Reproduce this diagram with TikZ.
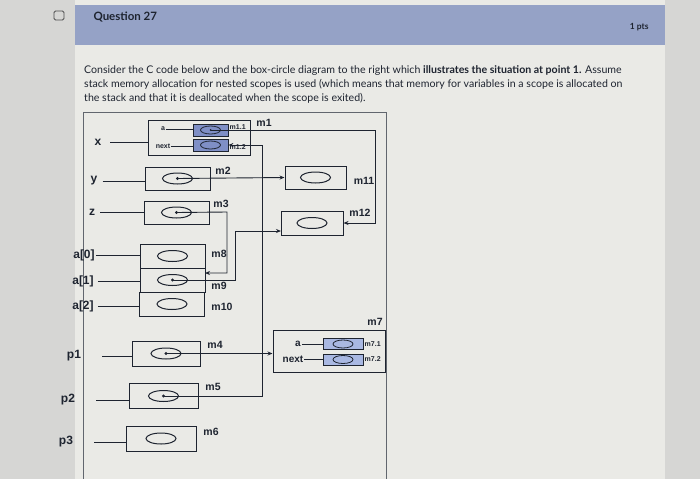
\documentclass[tikz,border=0pt]{standalone}
\usepackage{fontspec}
\setmainfont{Liberation Sans}
\newfontfamily\lato{Lato}
\usetikzlibrary{shapes.geometric,arrows.meta,calc}
\definecolor{bg}{HTML}{D6D6D4}
\definecolor{card}{HTML}{EAEAE6}
\definecolor{head}{HTML}{95A2C6}
\definecolor{inner}{HTML}{7F8FC6}
\definecolor{innerl}{HTML}{A9B8E2}
\definecolor{ink}{HTML}{1E2430}
\begin{document}
\begin{tikzpicture}[x=1pt,y=-1pt,
  box/.style={draw=ink,line width=1pt,inner sep=0pt},
  ibox/.style={draw=ink,line width=0.8pt,fill=inner,minimum width=35pt,minimum height=12pt,inner sep=0pt},
  lbox/.style={draw=ink,line width=0.8pt,fill=innerl,minimum width=40pt,minimum height=11pt,inner sep=0pt},
  ell/.style={ellipse,draw=ink,line width=1pt,minimum width=30pt,minimum height=11pt,inner sep=0pt},
  sell/.style={ellipse,draw=ink,line width=0.8pt,minimum width=20pt,minimum height=8pt,inner sep=0pt},
  lab/.style={font=\fontsize{10.5}{12}\selectfont\bfseries,text=ink,inner sep=1pt},
  vlab/.style={font=\fontsize{12}{13}\selectfont\bfseries,text=ink,inner sep=1pt},
  slab/.style={font=\fontsize{7}{8}\selectfont\bfseries,text=ink,inner sep=0.5pt},
  ln/.style={draw=ink,line width=0.9pt},
  ptr/.style={draw=ink,line width=0.9pt,-{Stealth[length=5pt,width=4pt]}}]
\useasboundingbox (0,0) rectangle (700,479);
\fill[bg] (0,0) rectangle (700,479);
\fill[card] (75,0) rectangle (665,479);
\fill[head] (75,5) rectangle (665,45);
\draw[gray!60!black,line width=0.8pt,rounded corners=1.5pt] (54,11) rectangle (64,20);
\node[anchor=west,font=\lato\fontsize{11.5}{13}\selectfont\bfseries,text=ink] (q) at (90,17) {Question 27};
\node[anchor=east,font=\lato\fontsize{8.5}{10}\selectfont\bfseries,text=ink] (pts) at (652,27) {1 pts};
\node[anchor=north west,align=left,font=\lato\fontsize{10.6}{14}\selectfont,text=ink,inner sep=0pt] (txt) at (84,65)
 {Consider the C code below and the box-circle diagram to the right which \textbf{illustrates the situation at point 1.} Assume\\
  stack memory allocation for nested scopes is used (which means that memory for variables in a scope is allocated on\\
  the stack and that it is deallocated when the scope is exited).};
% outer frame
\draw[ink!70,line width=1pt] (386,479) -- (386,112) -- (83,112) -- (83,479);
% m1
\node[box,minimum width=102pt,minimum height=35pt] (m1) at (199,137.5) {};
\node[ibox] (m11b) at (210.5,130) {};
\node[ibox] (m12b) at (210.5,145) {};
\node[sell] (e11) at (m11b.center) {};
\node[sell] (e12) at (m12b.center) {};
\node[slab] (la) at (163,129) {a};
\node[slab] (lnext) at (163,146) {next};
\draw[ln] (la.east) -- (la.east -| m11b.west);
\draw[ln] (lnext.east) -- (lnext.east -| m12b.west);
\node[slab,anchor=west] (l11) at (229,127) {m1.1};
\node[slab,anchor=west] (l12) at (229,147) {m1.2};
\node[lab] (lm1) at (264,123) {m1};
\node[vlab] (x) at (98,142) {x};
\coordinate (x1) at (110,142);
\draw[ln] (x1) -- (x1 -| m1.west);
% m2
\node[box,minimum width=65pt,minimum height=23pt] (m2) at (177.5,178.5) {};
\node[ell] (e2) at (m2.center) {};
\node[lab] (lm2) at (223,171) {m2};
\node[vlab] (y) at (94,181) {y};
\draw[ln] ($(y.east)+(4,0)$) -- (y.east -| m2.west);
% m3
\node[box,minimum width=65pt,minimum height=23pt] (m3) at (176.5,212.5) {};
\node[ell] (e3) at (m3.center) {};
\node[lab] (lm3) at (221,204) {m3};
\node[vlab] (z) at (92,212) {z};
\draw[ln] ($(z.east)+(4,0)$) -- (z.east -| m3.west);
% array
\node[box,minimum width=65pt,minimum height=24pt] (m8) at (172.5,256) {};
\node[box,minimum width=65pt,minimum height=24pt] (m9) at (172.5,280) {};
\node[box,minimum width=65pt,minimum height=24pt] (m10) at (172,304) {};
\node[ell] (e8) at (m8.center) {};
\node[ell] (e9) at (m9.center) {};
\node[ell] (e10) at (m10.center) {};
\node[lab] (lm8) at (219,254) {m8};
\node[lab] (lm9) at (219,286) {m9};
\node[lab] (lm10) at (222,307) {m10};
\node[vlab] (a0) at (84,255) {a[0]};
\node[vlab] (a1) at (83,281) {a[1]};
\node[vlab] (a2) at (83,306) {a[2]};
\draw[ln] (a0.east) -- (a0.east -| m8.west);
\draw[ln] ($(a1.east)+(3,0)$) -- (a1.east -| m9.west);
\draw[ln] ($(a2.east)+(3,0)$) -- (a2.east -| m10.west);
% m4 m5 m6
\node[box,minimum width=68pt,minimum height=25pt] (m4) at (166,353.5) {};
\node[ell] (e4) at (m4.center) {};
\node[lab] (lm4) at (215,345) {m4};
\node[vlab] (p1) at (74,356) {p1};
\draw[ln] ($(p1.east)+(20,0)$) -- (p1.east -| m4.west);
\node[box,minimum width=69pt,minimum height=25pt] (m5) at (163.5,396) {};
\node[ell] (e5) at (m5.center) {};
\node[lab] (lm5) at (213,387) {m5};
\node[vlab] (p2) at (68,400) {p2};
\draw[ln] ($(p2.east)+(20,0)$) -- (p2.east -| m5.west);
\node[box,minimum width=70pt,minimum height=25pt] (m6) at (161,438.5) {};
\node[ell] (e6) at (m6.center) {};
\node[lab] (lm6) at (211,432) {m6};
\node[vlab] (p3) at (66,442) {p3};
\draw[ln] ($(p3.east)+(20,0)$) -- (p3.east -| m6.west);
% heap-ish boxes
\node[box,minimum width=61pt,minimum height=23pt] (m11) at (315.5,177.5) {};
\node[ell] (e11h) at (m11.center) {};
\node[lab] (lm11) at (364,181) {m11};
\node[box,minimum width=62pt,minimum height=24pt] (m12) at (312,223) {};
\node[ell] (e12h) at (m12.center) {};
\node[lab] (lm12) at (360,213) {m12};
% m7
\node[box,minimum width=112pt,minimum height=42pt] (m7) at (329,351) {};
\node[lbox] (m71) at (343,344) {};
\node[lbox] (m72) at (343,359.5) {};
\node[sell] (e71) at (m71.center) {};
\node[sell] (e72) at (m72.center) {};
\node[lab,font=\fontsize{10}{11}\selectfont\bfseries] (la7) at (298,344) {a};
\node[lab,font=\fontsize{10}{11}\selectfont\bfseries] (ln7) at (293,359) {next};
\draw[ln] (la7.east) -- (la7.east -| m71.west);
\draw[ln] (ln7.east) -- (ln7.east -| m72.west);
\node[slab,anchor=west] (l71) at (364,344) {m7.1};
\node[slab,anchor=west] (l72) at (364,359) {m7.2};
\node[lab] (lm7) at (375,322) {m7};
% pointers
\foreach \e in {e2,e3,e9,e4,e5} \fill[ink] (\e.center) circle (1.7);
\fill[ink] (e11.center) circle (1);
\draw[ptr] (e2.center) -- (m11.west);
\draw[ptr] (e4.center) -- (e4.center -| m7.west);
\coordinate (c1) at (375,130);
\draw[ptr] (e11.center) -- (c1) |- (m12.east);
\coordinate (c2) at (262,396);
\draw[ptr] (e5.center) -- (c2) |- (m12b.east);
\coordinate (c3) at (227,212);
\coordinate (t3) at (205,273);
\draw[ptr] (e3.center) -- (c3) |- (t3);
\coordinate (c4) at (235,280);
\coordinate (t4) at (281,231);
\draw[ptr] (e9.center) -- (c4) |- (t4);
\end{tikzpicture}
\end{document}
